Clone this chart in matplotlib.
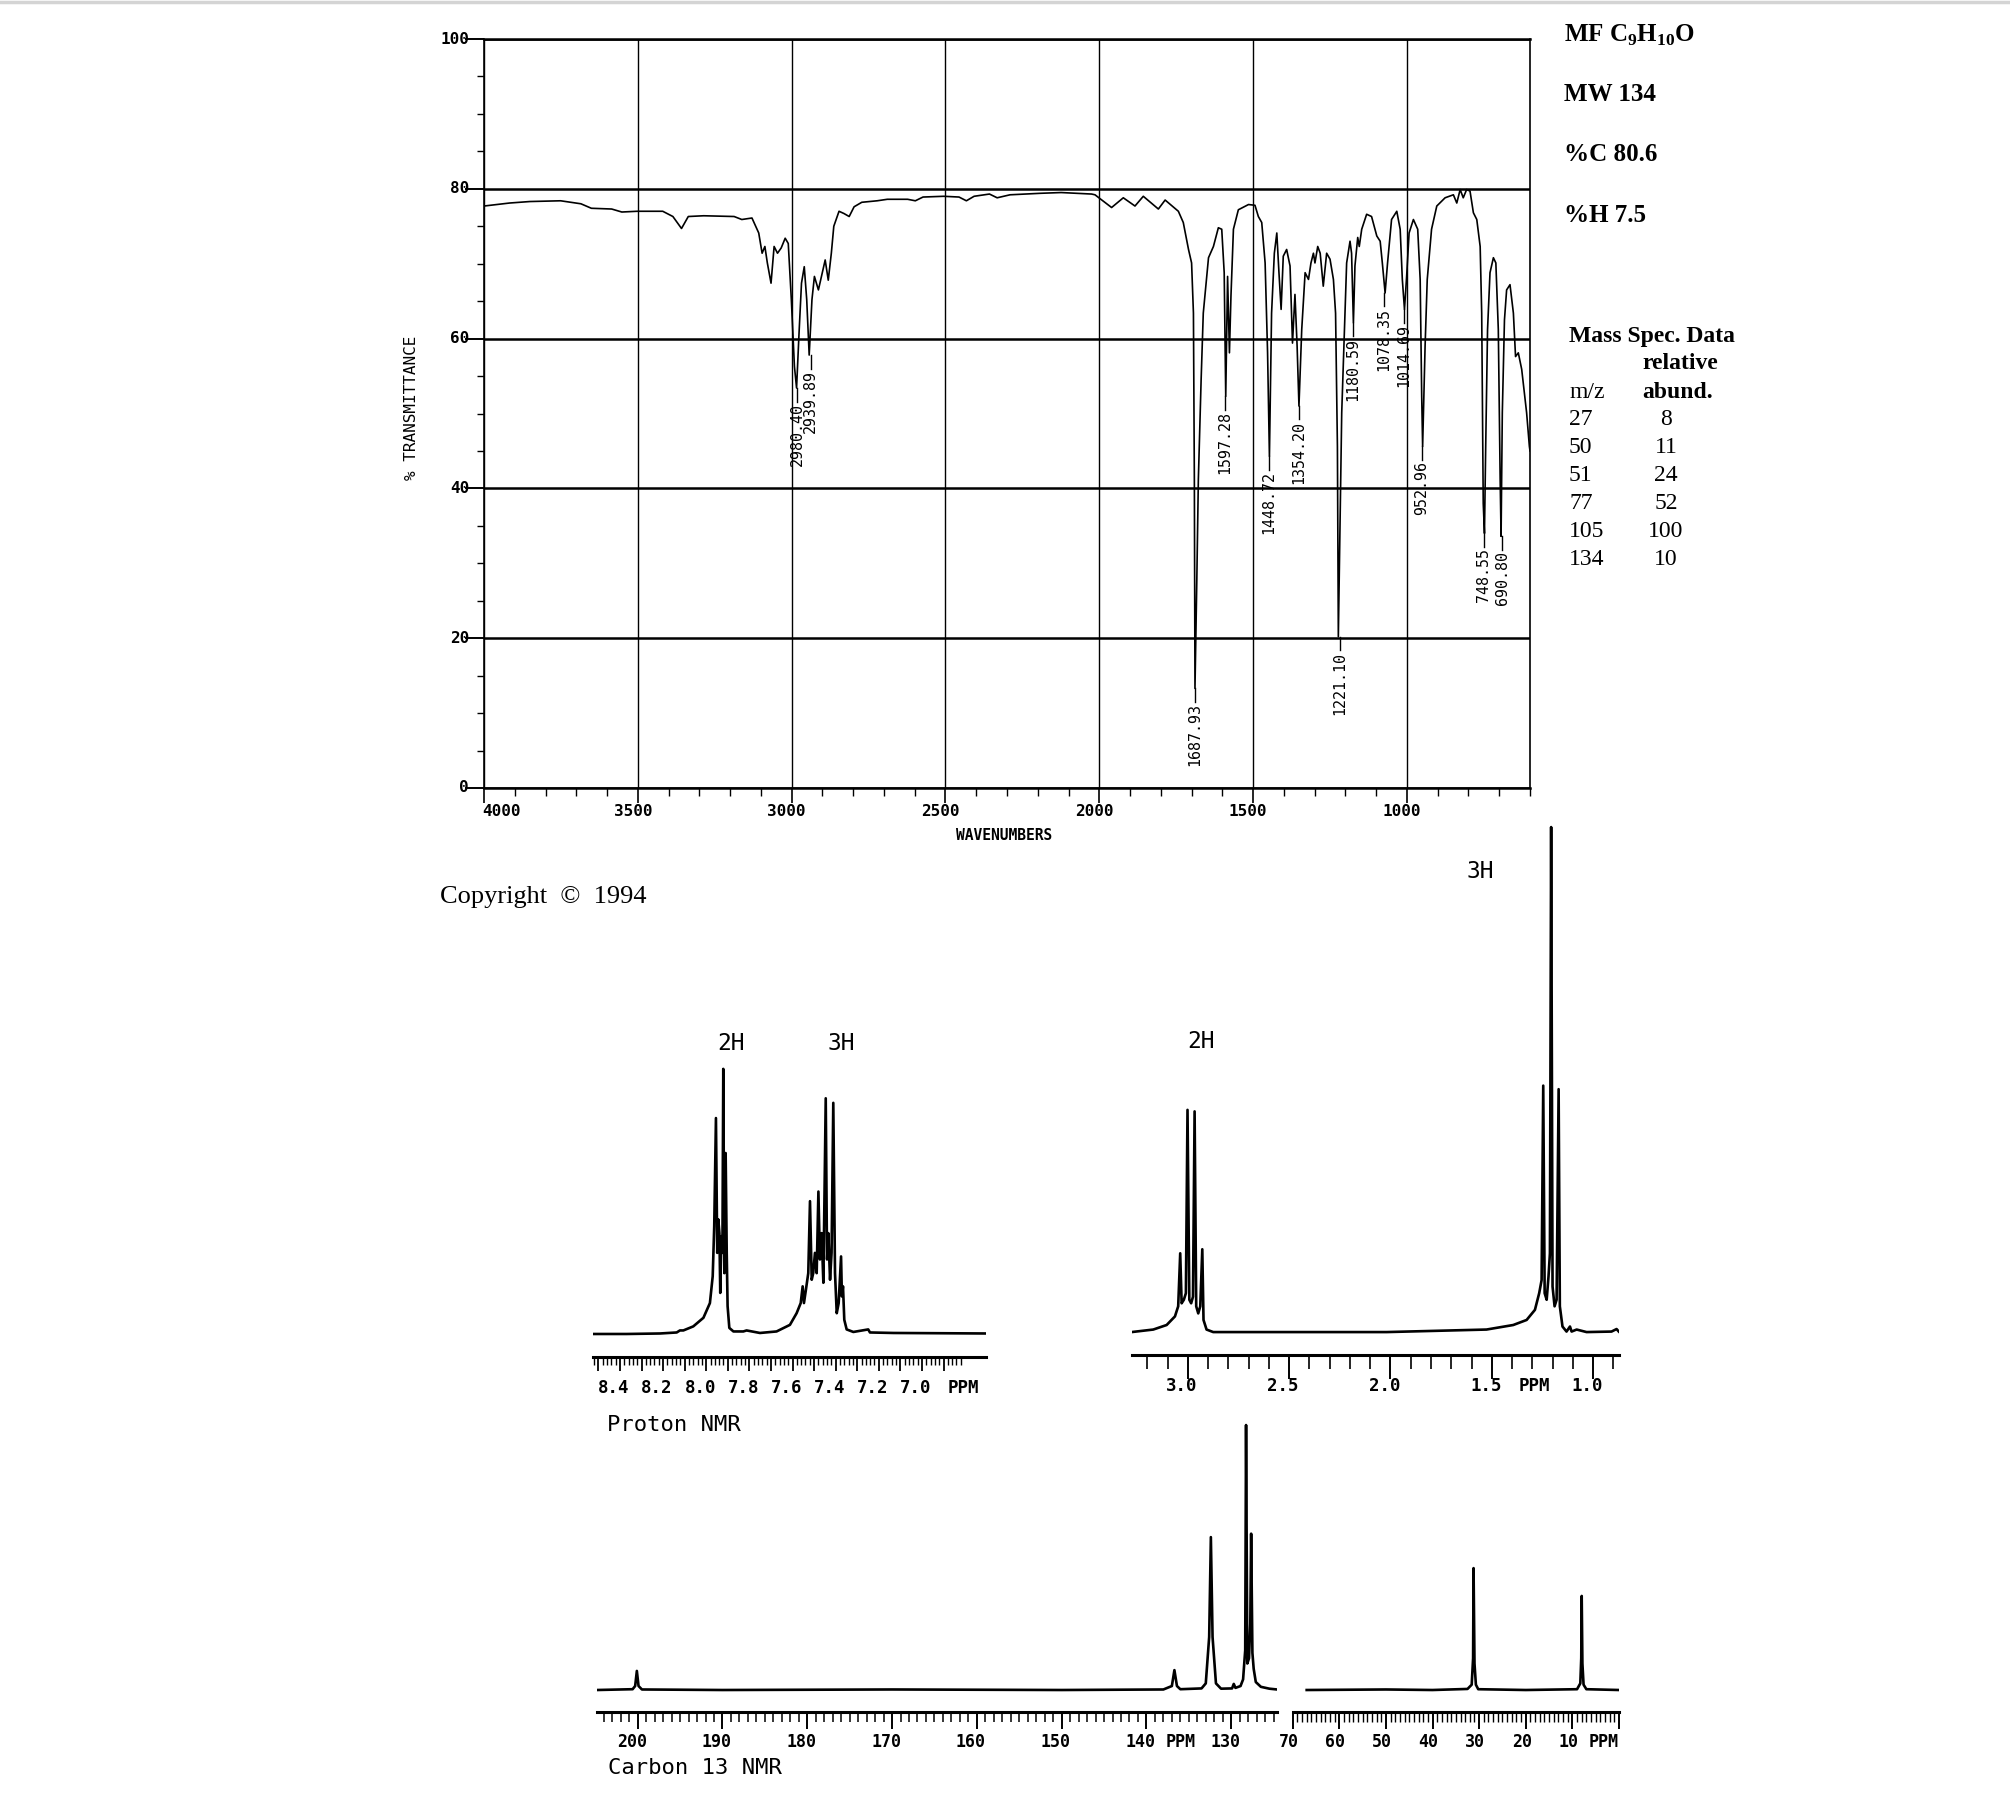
import numpy as np
import matplotlib
matplotlib.use("Agg")
import matplotlib.pyplot as plt
from matplotlib.transforms import ScaledTranslation, blended_transform_factory
from matplotlib.lines import Line2D

# ---------------- DATA ----------------
# IR spectrum (wavenumber cm-1, % transmittance)
ir_wavenumber = [4000, 3917, 3851, 3751, 3685, 3651, 3585, 3552, 3502, 3419, 3386, 3358, 3336, 3286,
                 3187, 3162, 3129, 3107, 3096, 3087, 3079, 3067, 3057, 3046, 3034, 3021, 3011, 3001,
                 2991, 2984, 2976, 2968, 2959, 2951, 2943, 2934, 2926, 2913, 2901, 2891, 2881, 2871,
                 2863, 2846, 2830, 2813, 2797, 2772, 2722, 2689, 2623, 2598, 2573, 2506, 2456, 2432,
                 2407, 2357, 2332, 2290, 2191, 2124, 2075, 2025, 2014, 1960, 1922, 1884, 1857, 1808,
                 1786, 1743, 1727, 1710, 1700, 1694, 1691, 1689, 1683, 1678, 1669, 1662, 1645, 1629,
                 1613, 1602, 1594, 1589, 1583, 1577, 1572, 1564, 1548, 1515, 1494, 1483, 1472, 1461,
                 1453, 1447, 1440, 1431, 1423, 1416, 1409, 1402, 1391, 1380, 1372, 1364, 1357, 1351,
                 1342, 1331, 1320, 1312, 1304, 1299, 1290, 1282, 1272, 1261, 1250, 1239, 1232, 1226,
                 1223, 1217, 1212, 1203, 1196, 1185, 1180, 1174, 1169, 1160, 1155, 1147, 1131, 1115,
                 1098, 1087, 1080, 1071, 1063, 1050, 1033, 1022, 1015, 1008, 1001, 993, 979, 965,
                 957, 952, 949, 941, 934, 920, 903, 876, 849, 838, 827, 817, 806, 795, 784, 773,
                 762, 757, 752, 748, 744, 738, 730, 719, 711, 703, 697, 694, 690, 683, 676, 665,
                 654, 647, 638, 627, 611, 602, 600]
ir_transmittance = [77.7, 78.1, 78.3, 78.4, 78.0, 77.4, 77.3, 76.9, 77.0, 77.0, 76.3, 74.7, 76.3, 76.4,
                    76.3, 75.9, 76.1, 74.1, 71.4, 72.3, 70.1, 67.4, 72.3, 71.4, 72.1, 73.4, 72.7, 65.2,
                    56.3, 53.4, 60.7, 67.4, 69.6, 65.2, 57.8, 65.2, 68.3, 66.5, 68.7, 70.5, 67.8, 71.4,
                    75.0, 77.0, 76.7, 76.3, 77.6, 78.2, 78.4, 78.6, 78.6, 78.4, 78.9, 79.0, 78.9, 78.4,
                    79.0, 79.3, 78.8, 79.2, 79.4, 79.5, 79.4, 79.3, 79.2, 77.5, 78.8, 77.7, 79.0, 77.3,
                    78.5, 77.0, 75.5, 71.9, 70.1, 63.4, 41.2, 13.3, 27.8, 41.2, 54.5, 63.4, 70.8, 72.3,
                    74.8, 74.6, 68.8, 52.3, 68.3, 58.1, 65.7, 74.6, 77.2, 77.9, 77.8, 76.3, 75.5, 70.1,
                    58.1, 44.3, 63.4, 71.4, 74.1, 68.8, 63.9, 71.0, 71.9, 69.7, 59.4, 65.9, 59.0, 51.0,
                    61.2, 68.8, 67.9, 70.1, 71.4, 70.1, 72.3, 71.4, 67.0, 71.4, 70.6, 67.9, 63.4, 45.6,
                    20.2, 36.7, 50.1, 61.2, 70.1, 73.0, 71.4, 62.1, 69.7, 73.5, 72.3, 74.6, 76.6, 76.3,
                    73.7, 73.0, 70.1, 66.1, 70.1, 75.9, 77.0, 74.6, 67.9, 63.9, 68.3, 74.1, 75.9, 74.6,
                    67.9, 52.3, 45.6, 59.0, 67.9, 74.6, 77.7, 78.8, 79.2, 78.1, 79.9, 78.8, 79.9, 79.7,
                    76.8, 75.9, 72.3, 63.4, 38.0, 34.0, 45.6, 61.2, 68.8, 70.8, 70.1, 61.2, 41.2, 33.6,
                    50.1, 62.5, 66.5, 67.2, 63.4, 57.6, 58.1, 55.9, 50.1, 45.6, 45.0]

ir_peak_labels = ["2980.40", "2939.89", "1687.93", "1597.28", "1448.72", "1354.20", "1221.10",
                  "1180.59", "1078.35", "1014.69", "952.96", "748.55", "690.80"]
ir_peak_wavenumber = [2982, 2938, 1689, 1591, 1448, 1351, 1218, 1175, 1075, 1010, 951, 750, 691]

ir_xtick_values = [4000, 3500, 3000, 2500, 2000, 1500, 1000]
ir_xtick_labels = ["4000", "3500", "3000", "2500", "2000", "1500", "1000"]
ir_ytick_values = [0, 20, 40, 60, 80, 100]
ir_ytick_labels = ["0", "20", "40", "60", "80", "100"]

# Proton NMR, aromatic expansion (ppm, relative intensity %)
h1_arom_ppm = [8.523, 8.369, 8.214, 8.137, 8.122, 8.106, 8.060, 8.013, 7.983, 7.970, 7.963, 7.955,
               7.949, 7.944, 7.939, 7.935, 7.930, 7.925, 7.921, 7.916, 7.910, 7.905, 7.901, 7.893,
               7.874, 7.828, 7.813, 7.751, 7.674, 7.612, 7.581, 7.562, 7.553, 7.547, 7.538, 7.527,
               7.519, 7.511, 7.504, 7.496, 7.488, 7.480, 7.473, 7.465, 7.457, 7.446, 7.440, 7.434,
               7.426, 7.419, 7.411, 7.403, 7.395, 7.386, 7.375, 7.371, 7.366, 7.360, 7.349, 7.318,
               7.249, 7.241, 7.132, 6.703]
h1_arom_int = [0.0, 0.0, 0.1, 0.3, 0.7, 0.7, 1.5, 3.2, 6.1, 11.4, 21.2, 42.6,
               16.0, 22.6, 19.9, 8.1, 19.3, 16.0, 52.3, 12.0, 35.7, 16.0, 5.5, 1.2,
               0.5, 0.5, 0.7, 0.2, 0.5, 1.8, 4.1, 6.1, 9.4, 6.1, 8.7, 12.0,
               26.2, 10.7, 12.0, 16.0, 12.0, 28.1, 14.7, 19.9, 10.1, 46.5, 14.7, 19.9,
               10.7, 16.0, 45.6, 12.0, 4.1, 6.1, 15.3, 7.4, 9.4, 2.8, 0.9, 0.4,
               0.9, 0.3, 0.2, 0.1]
h1_arom_ticks = [8.4, 8.2, 8.0, 7.8, 7.6, 7.4, 7.2, 7.0]
h1_arom_tick_labels = ["8.4", "8.2", "8.0", "7.8", "7.6", "7.4", "7.2", "7.0"]

# Proton NMR, aliphatic region
h1_alk_ppm = [3.278, 3.171, 3.105, 3.064, 3.048, 3.038, 3.031, 3.020, 3.010, 3.002, 2.993, 2.984,
              2.975, 2.967, 2.959, 2.949, 2.939, 2.929, 2.923, 2.908, 2.875, 2.677, 2.019, 1.526,
              1.394, 1.328, 1.287, 1.266, 1.254, 1.246, 1.239, 1.229, 1.220, 1.213, 1.207, 1.200,
              1.190, 1.180, 1.170, 1.164, 1.151, 1.131, 1.114, 1.106, 1.081, 1.032, 0.909, 0.884,
              0.873]
h1_alk_int = [0.0, 0.5, 1.4, 3.1, 5.1, 15.6, 5.7, 6.4, 7.7, 44.0, 6.4, 5.7,
              7.0, 43.7, 5.1, 3.7, 5.1, 16.4, 2.4, 0.5, 0.0, 0.0, 0.0, 0.5,
              1.4, 2.4, 4.4, 7.7, 10.3, 48.8, 7.7, 6.4, 11.0, 15.6, 100.0, 9.0,
              5.1, 6.4, 48.1, 5.1, 1.1, 0.1, 1.1, 0.1, 0.5, 0.0, 0.1, 0.6,
              0.1]
h1_alk_ticks = [3.0, 2.5, 2.0, 1.5, 1.0]
h1_alk_tick_labels = ["3.0", "2.5", "2.0", "1.5", "1.0"]

# Carbon 13 NMR, low-field segment
c13_low_ppm = [204.8, 200.6, 200.3, 200.1, 199.9, 199.5, 190.0, 170.0, 150.0, 138.0, 137.0, 136.7,
               136.4, 136.0, 133.5, 133.0, 132.6, 132.4, 132.2, 131.8, 131.2, 129.9, 129.7, 129.5,
               128.9, 128.6, 128.35, 128.25, 128.1, 127.9, 127.75, 127.65, 127.5, 127.35, 127.1,
               126.5, 125.5, 124.6]
c13_low_int = [0.0, 0.3, 1.5, 7.2, 1.5, 0.2, 0.0, 0.2, 0.0, 0.2, 1.5, 7.5,
               1.5, 0.3, 0.6, 2.5, 20.0, 57.7, 20.0, 2.5, 0.5, 0.6, 2.3, 0.8,
               1.5, 4.0, 15.0, 100.0, 10.0, 12.0, 25.0, 59.0, 14.0, 8.0, 3.0,
               1.2, 0.5, 0.2]
c13_low_ticks = [200, 190, 180, 170, 160, 150, 140, 130]
c13_low_tick_labels = ["200", "190", "180", "170", "160", "150", "140", "130"]

# Carbon 13 NMR, high-field segment
c13_high_ppm = [67.0, 50.0, 40.0, 32.5, 31.6, 31.3, 31.2, 31.0, 30.7, 30.2, 20.0, 9.0,
                8.3, 8.1, 8.0, 7.85, 7.6, 7.0, 0.0]
c13_high_int = [0.0, 0.2, 0.0, 0.4, 2.0, 12.0, 46.0, 10.0, 2.0, 0.3, 0.0, 0.3,
                2.5, 12.0, 35.5, 10.0, 2.0, 0.3, 0.0]
c13_high_ticks = [70, 60, 50, 40, 30, 20, 10]
c13_high_tick_labels = ["70", "60", "50", "40", "30", "20", "10"]

formula_lines = [r"MF C$_\mathregular{9}$H$_\mathregular{10}$O", "MW 134", "%C 80.6", "%H 7.5"]
ms_mz = ["27", "50", "51", "77", "105", "134"]
ms_abund = ["8", "11", "24", "52", "100", "10"]

# ---------------- FIGURE ----------------
W, H, DPI = 2010, 1809, 100
fig = plt.figure(figsize=(W / DPI, H / DPI), dpi=DPI)
fig.patch.set_facecolor("white")
MONO = "DejaVu Sans Mono"
SERIF = "Liberation Serif"


def px_axes(l, t, r, b):
    return fig.add_axes([l / W, 1 - b / H, (r - l) / W, (b - t) / H])


def ftext(x, y, s, **kw):
    return fig.text(x / W, 1 - y / H, s, **kw)


def off(ax, dx, dy):
    return ScaledTranslation(dx / DPI, dy / DPI, fig.dpi_scale_trans)


# light grey strip at top of page
fig.add_artist(Line2D([0, 1], [1 - 1.5 / H, 1 - 1.5 / H], transform=fig.transFigure,
                      color="#d4d4d4", lw=2.5))

# ---------------- IR ----------------
ax = px_axes(484, 39, 1530, 788)
wn = np.array(ir_wavenumber, dtype=float)
tr = np.array(ir_transmittance, dtype=float)
ax.plot(wn, tr, color="black", lw=1.2, zorder=3)
ax.set_xlim(4000, 600)
ax.set_ylim(0, 100)
ax.set_xticks(ir_xtick_values)
ax.set_xticks(np.arange(600, 4000, 100), minor=True)
ax.set_yticks(ir_ytick_values)
ax.set_yticks(np.arange(0, 101, 5), minor=True)
ax.tick_params(axis="x", which="major", direction="out", length=11, width=1.2, labelbottom=False)
ax.tick_params(axis="x", which="minor", direction="out", length=6, width=1.0)
ax.tick_params(axis="y", which="major", direction="out", length=14, width=1.4, labelleft=False)
ax.tick_params(axis="y", which="minor", direction="out", length=5, width=1.0)
ax.xaxis.grid(True, which="major", color="black", lw=1.0)
ax.yaxis.grid(True, which="major", color="black", lw=1.8)
ax.spines["top"].set_linewidth(1.8)
ax.spines["bottom"].set_linewidth(1.8)
ax.spines["left"].set_linewidth(1.2)
ax.spines["right"].set_linewidth(1.2)

btr = blended_transform_factory(ax.transData, ax.transAxes)
for v, s in zip(ir_xtick_values, ir_xtick_labels):
    if v == 4000:
        ax.text(v, 0, s, transform=btr + off(ax, -2, -23), ha="left", va="center",
                family=MONO, weight="bold", fontsize=11.5)
    else:
        ax.text(v, 0, s, transform=btr + off(ax, -5, -23), ha="center", va="center",
                family=MONO, weight="bold", fontsize=11.5)
ltr = blended_transform_factory(ax.transAxes, ax.transData)
for v, s in zip(ir_ytick_values, ir_ytick_labels):
    ax.text(0, v, s, transform=ltr + off(ax, -15, 0), ha="right", va="center",
            family=MONO, weight="bold", fontsize=11.5)

for lab, pw in zip(ir_peak_labels, ir_peak_wavenumber):
    m = np.abs(wn - pw) <= 8
    tmin = tr[m].min()
    top = tmin - 2.0
    ax.plot([pw, pw], [tmin, top + 0.2], color="black", lw=1.0, zorder=3)
    ax.text(pw, top, lab, rotation=90, ha="center", va="top", family=MONO,
            fontsize=10.8, zorder=4)

ftext(412, 408, "% TRANSMITTANCE", rotation=90, ha="center", va="center",
      family=MONO, fontsize=11.5)
ftext(1004, 835, "WAVENUMBERS", ha="center", va="center", family=MONO,
      weight="bold", fontsize=10.5)

# ---------------- Right text block ----------------
for s, yb in zip(formula_lines, [42, 101, 161, 222]):
    ftext(1564, yb, s, ha="left", va="baseline", family=SERIF, weight="bold", fontsize=18)

ftext(1569, 342, "Mass Spec. Data", ha="left", va="baseline", family=SERIF,
      weight="bold", fontsize=17)
ftext(1642, 369, "relative", ha="left", va="baseline", family=SERIF, weight="bold", fontsize=17)
ftext(1569, 398, "m/z", ha="left", va="baseline", family=SERIF, fontsize=17)
ftext(1642, 398, "abund.", ha="left", va="baseline", family=SERIF, weight="bold", fontsize=17)
for i, (mz, ab) in enumerate(zip(ms_mz, ms_abund)):
    yb = 425 + 28 * i
    ftext(1569, yb, mz, ha="left", va="baseline", family=SERIF, fontsize=17)
    ftext(1666, yb, ab, ha="center", va="baseline", family=SERIF, fontsize=17)

ftext(440, 903, "Copyright  \u00a9  1994", ha="left", va="baseline", family=SERIF, fontsize=19)


# ---------------- NMR helpers ----------------
def nmr_axes(l, t, r, b, xlim, ylim):
    a = px_axes(l, t, r, b)
    a.set_xlim(*xlim)
    a.set_ylim(*ylim)
    for s in ["top", "right", "left"]:
        a.spines[s].set_visible(False)
    a.spines["bottom"].set_linewidth(2.2)
    a.set_yticks([])
    a.patch.set_alpha(0)
    return a


def tick_texts(a, vals, labels, dy, size=12.5, dx=-6):
    bt = blended_transform_factory(a.transData, a.transAxes)
    for v, s in zip(vals, labels):
        a.text(v, 0, s, transform=bt + off(a, dx, dy), ha="center", va="center",
               family=MONO, weight="bold", fontsize=size)


PROTON_YLIM = (-4.54, 101.4)
CARBON_YLIM = (-8.3, 101.9)

# Proton aromatic
a1 = nmr_axes(593, 820, 986, 1357, (8.525, 6.703), PROTON_YLIM)
a1.plot(h1_arom_ppm, h1_arom_int, color="black", lw=1.9)
a1.set_xticks(np.round(np.arange(6.9, 8.51, 0.1), 2))
a1.set_xticks(np.round(np.arange(6.82, 8.521, 0.02), 2), minor=True)
a1.tick_params(axis="x", which="major", direction="out", length=10, width=1.3, labelbottom=False)
a1.tick_params(axis="x", which="minor", direction="out", length=6, width=1.0)
tick_texts(a1, h1_arom_ticks, h1_arom_tick_labels, -31)
tick_texts(a1, [6.81], ["PPM"], -31, dx=0)

# Proton aliphatic
a2 = nmr_axes(1132, 820, 1619, 1355, (3.276, 0.872), PROTON_YLIM)
a2.plot(h1_alk_ppm, h1_alk_int, color="black", lw=1.9)
a2.set_xticks(h1_alk_ticks)
a2.set_xticks(np.round(np.arange(0.9, 3.21, 0.1), 2), minor=True)
a2.tick_params(axis="x", which="major", direction="out", length=17, width=1.4, labelbottom=False)
a2.tick_params(axis="x", which="minor", direction="out", length=10, width=1.2)
tick_texts(a2, h1_alk_ticks, h1_alk_tick_labels, -31)
tick_texts(a2, [1.29], ["PPM"], -31, dx=0)

ftext(731, 1043, "2H", ha="center", va="center", family=MONO, fontsize=16.5)
ftext(841, 1043, "3H", ha="center", va="center", family=MONO, fontsize=16.5)
ftext(1201, 1041, "2H", ha="center", va="center", family=MONO, fontsize=16.5)
ftext(1480, 872, "3H", ha="center", va="center", family=MONO, fontsize=16.5)
ftext(607, 1425, "Proton NMR", ha="left", va="center", family=MONO, fontsize=16)

# Carbon low field
c1 = nmr_axes(597, 1420, 1277, 1712, (204.8, 124.6), CARBON_YLIM)
c1.plot(c13_low_ppm, c13_low_int, color="black", lw=1.9)
c1.set_xticks(c13_low_ticks)
c1.set_xticks(np.arange(125, 205, 1), minor=True)
c1.tick_params(axis="x", which="major", direction="out", length=12, width=1.4, labelbottom=False)
c1.tick_params(axis="x", which="minor", direction="out", length=7, width=1.1)
tick_texts(c1, c13_low_ticks, c13_low_tick_labels, -30, size=12)
tick_texts(c1, [136.0], ["PPM"], -30, size=12, dx=0)

# Carbon high field
c2 = nmr_axes(1292.7, 1420, 1619, 1712, (70, 0), CARBON_YLIM)
c2.plot(c13_high_ppm, c13_high_int, color="black", lw=1.9)
c2.set_xticks(np.arange(0, 71, 10))
c2.set_xticks(np.arange(0, 71, 1), minor=True)
c2.tick_params(axis="x", which="major", direction="out", length=12, width=1.4, labelbottom=False)
c2.tick_params(axis="x", which="minor", direction="out", length=7, width=1.0)
tick_texts(c2, c13_high_ticks, c13_high_tick_labels, -30, size=12, dx=-4)
bt2 = blended_transform_factory(c2.transData, c2.transAxes)
c2.text(0, 0, "PPM", transform=bt2 + off(c2, 0, -30), ha="right", va="center",
        family=MONO, weight="bold", fontsize=12)

ftext(608, 1768, "Carbon 13 NMR", ha="left", va="center", family=MONO, fontsize=16)

fig.savefig("out.png", dpi=DPI, facecolor="white")
